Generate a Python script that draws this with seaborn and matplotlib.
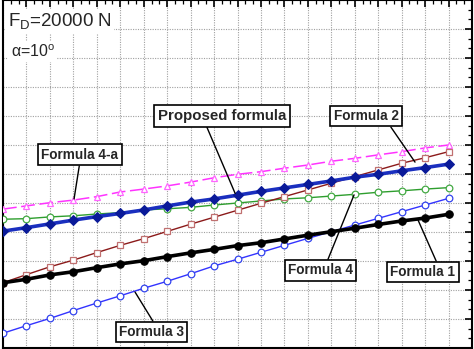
import numpy as np
import matplotlib
matplotlib.use("Agg")
import matplotlib.pyplot as plt
from matplotlib.ticker import MultipleLocator, AutoMinorLocator
import seaborn as sns

# ---- data (grid units) ----
x_pos = list(range(20))
formula_4a = [4.79, 4.90, 5.01, 5.10, 5.22, 5.38, 5.48, 5.59, 5.72, 5.87,
              5.99, 6.08, 6.20, 6.31, 6.44, 6.54, 6.66, 6.77, 6.90, 7.00]
formula_4 = [4.44, 4.46, 4.52, 4.56, 4.62, 4.67, 4.76, 4.80, 4.85, 4.93,
             5.00, 5.07, 5.14, 5.18, 5.24, 5.30, 5.37, 5.42, 5.48, 5.53]
proposed = [4.03, 4.15, 4.28, 4.41, 4.53, 4.64, 4.76, 4.90, 5.03, 5.14,
            5.27, 5.40, 5.52, 5.64, 5.76, 5.89, 5.99, 6.11, 6.22, 6.34]
formula_2 = [2.25, 2.53, 2.80, 3.03, 3.29, 3.54, 3.77, 4.02, 4.27, 4.51,
             4.75, 4.99, 5.22, 5.45, 5.68, 5.91, 6.14, 6.37, 6.56, 6.77]
formula_1 = [2.25, 2.37, 2.52, 2.63, 2.77, 2.90, 3.01, 3.15, 3.28, 3.40,
             3.53, 3.63, 3.76, 3.89, 4.01, 4.13, 4.26, 4.38, 4.48, 4.61]
formula_3 = [0.51, 0.77, 1.02, 1.29, 1.55, 1.80, 2.06, 2.30, 2.56, 2.83,
             3.06, 3.30, 3.54, 3.78, 4.01, 4.24, 4.47, 4.70, 4.93, 5.16]

sns.set_style("white")
plt.rcParams['font.family'] = ['Liberation Sans', 'DejaVu Sans']
plt.rcParams['mathtext.default'] = 'regular'

fig = plt.figure(figsize=(4.74, 3.49), dpi=100)
ax = fig.add_axes([3/474, 1/349, 469/474, 348/349])

x = np.array(x_pos)

sns.lineplot(x=x, y=formula_4a, ax=ax, color='#FF33FF', linewidth=1.1,
             marker='^', markersize=5, markerfacecolor='white',
             markeredgecolor='#FF66FF', markeredgewidth=0.9, zorder=3)
ax.lines[-1].set_dashes([9, 3])
sns.lineplot(x=x, y=formula_4, ax=ax, color='#2E9E2E', linewidth=1.0,
             marker='o', markersize=4.8, markerfacecolor='white',
             markeredgecolor='#44AA44', markeredgewidth=0.9, zorder=3)
sns.lineplot(x=x, y=formula_2, ax=ax, color='#8B1A1A', linewidth=1.0,
             marker='s', markersize=4.6, markerfacecolor='white',
             markeredgecolor='#C07070', markeredgewidth=0.9, zorder=3)
sns.lineplot(x=x, y=formula_3, ax=ax, color='#3333FF', linewidth=1.0,
             marker='o', markersize=4.8, markerfacecolor='white',
             markeredgecolor='#3344EE', markeredgewidth=0.9, zorder=3)
sns.lineplot(x=x, y=formula_1, ax=ax, color='black', linewidth=2.6,
             marker='o', markersize=5.4, markerfacecolor='black',
             markeredgecolor='black', zorder=4)
sns.lineplot(x=x, y=proposed, ax=ax, color='#1A2FBF', linewidth=2.6,
             marker='D', markersize=5.6, markerfacecolor='#0A1A99',
             markeredgecolor='#0A1A99', zorder=5)

ax.set_xlim(0, 20)
ax.set_ylim(0, 12)
ax.xaxis.set_major_locator(MultipleLocator(1))
ax.yaxis.set_major_locator(MultipleLocator(1))
ax.xaxis.set_minor_locator(AutoMinorLocator(3))
ax.yaxis.set_minor_locator(AutoMinorLocator(3))
ax.tick_params(which='both', direction='in', top=True, right=True,
               labelbottom=False, labelleft=False, color='black')
ax.tick_params(which='major', length=5, width=1.2)
ax.tick_params(which='minor', length=3, width=0.9)
ax.grid(True, which='major', color='#A0A0A0', linestyle=(0, (1, 1.2)), linewidth=0.8)
ax.set_axisbelow(True)
for s in ax.spines.values():
    s.set_color('black')
    s.set_linewidth(1.5)
ax.set_xlabel('')
ax.set_ylabel('')

plain = dict(boxstyle='square,pad=0.15', facecolor='white', edgecolor='none')
ax.text(0.2, 11.26, r'F$_{D}$=20000 N', fontsize=13.5, ha='left', va='center',
        bbox=plain, zorder=6)
ax.text(0.33, 10.22, r'$\alpha$=10$^{o}$', fontsize=11.5, ha='left', va='center',
        bbox=plain, zorder=6)

box = dict(boxstyle='square,pad=0.25', facecolor='white', edgecolor='black', linewidth=1.2)

def label(txt, xytext, xy, relpos, fs=9.8):
    ax.annotate(txt, xy=xy, xytext=xytext, textcoords='data', fontsize=fs,
                fontweight='bold', ha='center', va='center', bbox=box,
                arrowprops=dict(arrowstyle='-', color='black', lw=1.0,
                                relpos=relpos, shrinkA=0, shrinkB=0),
                zorder=10)

label('Proposed formula', (9.33, 8.0), (9.9, 5.33), (0.37, 0.0), fs=10.8)
label('Formula 2', (15.48, 8.0), (17.57, 6.41), (0.84, 0.0))
label('Formula 4-a', (3.28, 6.66), (3.03, 5.14), (0.5, 0.0))
label('Formula 4', (13.54, 2.68), (14.97, 5.28), (0.59, 1.0))
label('Formula 1', (17.91, 2.62), (17.70, 4.41), (0.73, 1.0))
label('Formula 3', (6.33, 0.55), (5.63, 1.93), (0.56, 1.0))

fig.savefig('out.png', dpi=100)
